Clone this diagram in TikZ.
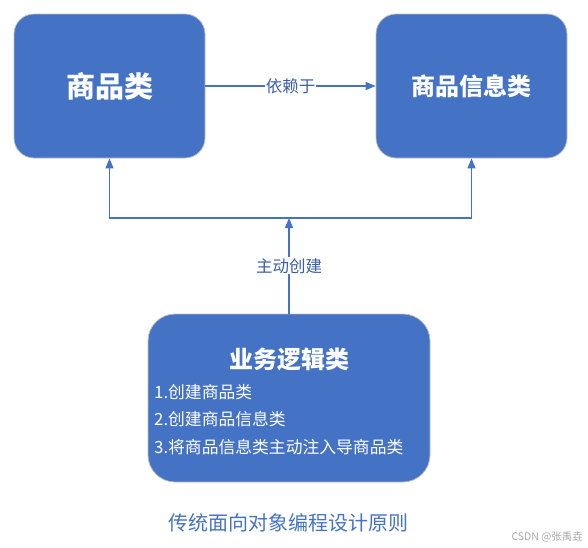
\documentclass[tikz,border=0pt]{standalone}
\usepackage{fontspec}
\setmainfont{Noto Sans CJK SC}
\usepackage{xcolor}
\usepackage{tikz}
\usetikzlibrary{
	arrows.meta
}
\definecolor{boxblue}{HTML}{4472C4}
\definecolor{boxline}{HTML}{BDBDBD}
\definecolor{labelblue}{HTML}{3A5FA8}
\definecolor{markgray}{HTML}{A8A8A8}
\tikzset{
	classbox/.style={draw=boxline,line width=0.8pt,fill=boxblue,rounded corners=20pt,
		text=white,font=\bfseries,minimum width=191pt,minimum height=144pt,inner sep=0pt},
	itemtext/.style={text=white,anchor=west,inner sep=0pt,font=\fontsize{16.8}{18}\selectfont},
	linklabel/.style={fill=white,text=labelblue,inner sep=1pt,font=\fontsize{16.5}{18}\selectfont},
	link/.style={draw=boxblue,line width=1.2pt,-{Triangle[length=10pt,width=8pt]}}
}

\begin{document}
\begin{tikzpicture}[x=1pt,y=-1pt]
		\useasboundingbox (0,0) rectangle (588,547);
		\node[classbox,font=\bfseries\fontsize{29}{31}\selectfont] (goods) at (109.5,86) {商品类};
		\node[classbox,font=\bfseries\fontsize{24}{26}\selectfont] (info) at (471.5,86) {商品信息类};
		
		\node[classbox,rounded corners=27pt,minimum width=282pt,minimum height=168pt] (logic) at (289,398) {};
		\node[text=white,inner sep=0pt,font=\bfseries\fontsize{24}{26}\selectfont] (logicT) at (289,359) {业务逻辑类};
		\node[itemtext] (item1) at (154,392) {1.创建商品类};
		\node[itemtext] (item2) at (154,419.5) {2.创建商品信息类};
		\node[itemtext] (item3) at (154,447) {3.将商品信息类主动注入导商品类};
		
		\coordinate (J) at (289,218);
		
		\node[text=boxblue,font=\fontsize{20}{22}\selectfont] (caption) at (288,523) {传统面向对象编程设计原则};
		\node[text=markgray,anchor=east,inner sep=0pt,font=\fontsize{10.5}{12}\selectfont] (mark) at (583,537) {CSDN @张禹垚};
		%
		\path[link]
		(goods) edge[link] node[linklabel]{依赖于} (info)
		(logic.north) edge[link] node[linklabel]{主动创建} (J);
		
		\draw[link] (J) -| (goods.south);
		\draw[link] (J) -| (info.south);
		
	\end{tikzpicture}
\end{document}
